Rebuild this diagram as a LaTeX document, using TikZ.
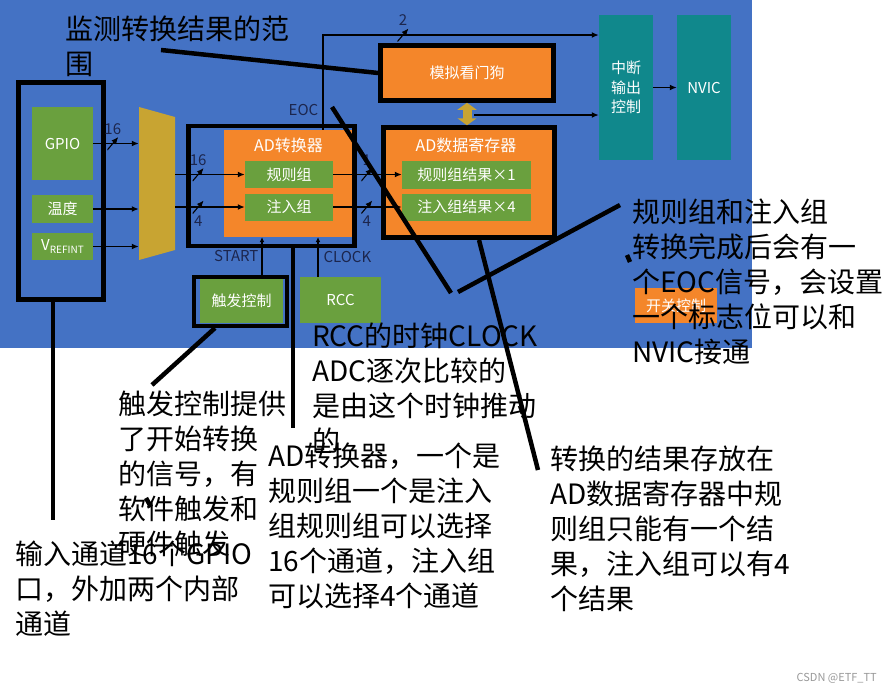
\documentclass[tikz,border=0pt]{standalone}
\usepackage{fontspec}
\setmainfont{Noto Sans CJK SC}
\usepackage{xcolor}
\usepackage{tikz}
\usetikzlibrary{arrows.meta,positioning,calc}

\definecolor{bgblue}{RGB}{68,114,196}
\definecolor{boxorange}{RGB}{244,134,42}
\definecolor{boxgreen}{RGB}{106,160,62}
\definecolor{boxteal}{RGB}{16,136,140}
\definecolor{muxgold}{RGB}{200,164,50}
\definecolor{labelnavy}{RGB}{28,38,78}

\begin{document}
\begin{tikzpicture}[x=1pt,y=-1pt,
  gbox/.style={fill=boxgreen,text=white,inner sep=0pt,font=\fontsize{15}{19}\selectfont},
  obox/.style={fill=boxorange,text=white,inner sep=0pt,font=\fontsize{15}{19}\selectfont},
  tbox/.style={fill=boxteal,text=white,inner sep=0pt,align=center,font=\fontsize{15}{19.5}\selectfont},
  blackframe/.style={draw=black,line width=4.5pt,inner sep=0pt},
  boxtitle/.style={text=white,inner sep=0pt,font=\fontsize{16}{19}\selectfont},
  arr/.style={-{Latex[length=7pt,width=6pt]},line width=1.6pt,draw=black},
  thinarr/.style={-{Latex[length=5pt,width=5pt]},line width=1.1pt,draw=black},
  bus/.style={inner sep=0pt,minimum width=11pt,minimum height=13pt,
              path picture={\draw[line width=1.1pt] (path picture bounding box.south west)--(path picture bounding box.north east);}},
  sig/.style={text=labelnavy,inner sep=1pt,font=\fontsize{15}{18}\selectfont},
  pointer/.style={line width=4.5pt,draw=black},
  notetext/.style={anchor=north west,align=left,inner sep=0pt,font=\fontsize{28}{35}\selectfont}
]
\fill[white] (0,0) rectangle (892,694);
\fill[bgblue] (0,0) rectangle (752,348);
\useasboundingbox (0,0) rectangle (892,694);

\node[gbox,minimum width=61pt,minimum height=73pt] (gpio) at (62.5,143.5) {GPIO};
\node[gbox,minimum width=61pt,minimum height=28pt] (temp) at (62.5,209) {温度};
\node[gbox,minimum width=61pt,minimum height=27pt] (vref) at (62.5,246.5) {V\raisebox{-3pt}{\fontsize{10}{10}\selectfont REFINT}};
\node[blackframe,minimum width=85pt,minimum height=217pt] (inframe) at (61,191) {};

\node[inner sep=0pt,minimum width=36pt,minimum height=153pt,
  path picture={\fill[muxgold] (path picture bounding box.north west)--([yshift=-10pt]path picture bounding box.north east)
    --([yshift=10pt]path picture bounding box.south east)--(path picture bounding box.south west)--cycle;}] (mux) at (157,183.5) {};

\draw[arr] (gpio.east) -- (gpio.east -| mux.west) node[bus,pos=0.43,label={[sig,label distance=0pt]above:16}] {};
\draw[arr] (temp.east) -- (temp.east -| mux.west);
\draw[arr] (vref.east) -- (vref.east -| mux.west);

\node[obox,minimum width=129pt,minimum height=107pt] (adc) at (288.5,183.5) {};
\node[boxtitle] (adctitle) at (288.5,145) {AD转换器};
\node[gbox,minimum width=88pt,minimum height=27pt] (regular) at (289,174.5) {规则组};
\node[gbox,minimum width=88pt,minimum height=27pt] (inject) at (289,207) {注入组};
\node[blackframe,minimum width=166pt,minimum height=120pt] (adcframe) at (271.5,186) {};

\draw[arr] (regular.west -| mux.east) -- (regular.west) node[bus,pos=0.33,label={[sig,label distance=0pt]above:16}] {};
\draw[arr] (inject.west -| mux.east) -- (inject.west) node[bus,pos=0.33,label={[sig,label distance=0pt]below:4}] {};

\node[obox,draw=black,line width=4.5pt,minimum width=171pt,minimum height=110pt] (reg) at (469,182.5) {};
\node[boxtitle] (regtitle) at (466,145) {AD数据寄存器};
\node[gbox,minimum width=129pt,minimum height=28pt] (regres) at (466.5,174.5) {规则组结果×1};
\node[gbox,minimum width=129pt,minimum height=27pt] (injres) at (466.5,207) {注入组结果×4};

\draw[arr] (regular.east) -- (regres.west) node[bus,pos=0.49,label={[sig,label distance=0pt]above:1}] {};
\draw[arr] (inject.east) -- (injres.west) node[bus,pos=0.49,label={[sig,label distance=0pt]below:4}] {};

\node[obox,draw=black,line width=4.5pt,minimum width=173pt,minimum height=55pt] (wd) at (467,73) {模拟看门狗};
\draw[muxgold,line width=9pt,{Triangle[length=7pt,width=19pt]}-{Triangle[length=7pt,width=19pt]}] (wd.south) -- (wd.south |- reg.north);

\node[tbox,minimum width=54pt,minimum height=145pt] (int) at (626,87.5) {中断\\输出\\控制};
\node[tbox,minimum width=54pt,minimum height=145pt] (nvic) at (704,87.5) {NVIC};
\draw[arr] (int.east) -- (nvic.west);

\coordinate (wdlink) at (474,115);
\draw[arr] (wdlink) -- (wdlink -| int.west);

\coordinate (eoctop) at (323,35);
\draw[arr] (eoctop |- adc.north) -- node[sig,left,pos=0.21,inner sep=4pt]{EOC} (eoctop)
  -- (eoctop -| int.west) node[bus,pos=0.29,label={[sig,label distance=0pt]above:2}] {};

\node[gbox,minimum width=83pt,minimum height=45pt] (trig) at (241.5,300.5) {触发控制};
\node[blackframe,minimum width=93pt,minimum height=49pt] (trigframe) at (240.5,301.5) {};
\node[gbox,minimum width=81pt,minimum height=46pt] (rcc) at (340.5,300) {RCC};
\coordinate (startx) at (262,0);
\coordinate (clockx) at (318,0);
\draw[thinarr] (trigframe.north -| startx) -- node[sig,left,inner sep=3pt]{START} (adc.south -| startx);
\draw[thinarr] (rcc.north -| clockx) -- node[sig,right,inner sep=5pt]{CLOCK} (adc.south -| clockx);

\node[obox,minimum width=82pt,minimum height=35pt] (switch) at (676,305.5) {开关控制};

\coordinate (p1) at (161,50);
\coordinate (eocmark) at (332,107);
\coordinate (vtip1) at (451,293);
\coordinate (vtip2) at (458,292);
\coordinate (p2) at (620,205);
\coordinate (regfoot) at (479,240);
\coordinate (p3) at (538,470);
\coordinate (trigfoot) at (215,328);
\coordinate (p4) at (152,385);
\coordinate (adcfoot) at (293,247);
\coordinate (p5) at (293,428);
\coordinate (infoot) at (53,300);
\coordinate (p6) at (53,520);
\draw[pointer] (p1) -- (wd.west);
\draw[pointer] (eocmark) -- (vtip1);
\draw[pointer] (vtip2) -- (p2);
\draw[pointer] (627,255) -- (630,262);
\draw[pointer] (regfoot) -- (p3);
\draw[pointer] (trigfoot) -- (p4);
\draw[pointer] (adcfoot) -- (p5);
\draw[pointer] (infoot) -- (p6);
\draw[pointer] (146,498) -- (151,507);

\node[notetext] (note1) at (65,16) {监测转换结果的范\\围};
\node[notetext] (note2) at (632,199) {规则组和注入组\\转换完成后会有一\\个EOC信号，会设置\\一个标志位可以和\\NVIC接通};
\node[notetext] (note3) at (312,323) {RCC的时钟CLOCK\\ADC逐次比较的\\是由这个时钟推动\\的};
\node[notetext] (note4) at (118,391) {触发控制提供\\了开始转换\\的信号，有\\软件触发和\\硬件触发};
\node[notetext] (note5) at (268,443) {AD转换器，一个是\\规则组一个是注入\\组规则组可以选择\\16个通道，注入组\\可以选择4个通道};
\node[notetext] (note6) at (550,446) {转换的结果存放在\\AD数据寄存器中规\\则组只能有一个结\\果，注入组可以有4\\个结果};
\node[notetext] (note7) at (15,541) {输入通道16个GPIO\\口，外加两个内部\\通道};

\node[anchor=east,text=gray!80,inner sep=0pt,font=\fontsize{11}{13}\selectfont] (mark) at (877,678) {CSDN @ETF\_TT};
\end{tikzpicture}
\end{document}
